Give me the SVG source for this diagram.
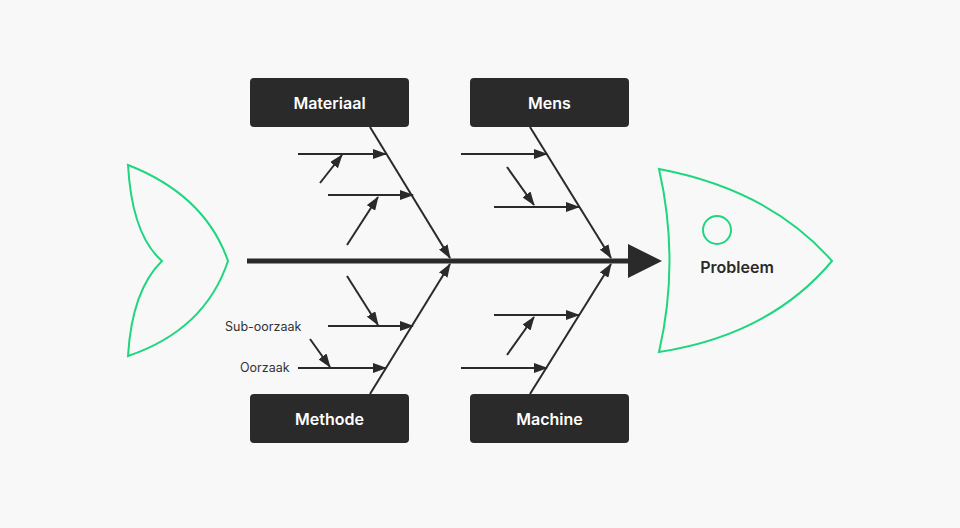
<svg xmlns="http://www.w3.org/2000/svg" width="960" height="528" viewBox="0 0 960 528">
<style>
.box{fill:#2a2a2a}
.bt{fill:#fff;font-family:"Inter","Liberation Sans",sans-serif;font-weight:600;font-size:16px;text-anchor:middle}
.ln{stroke:#2a2a2a;stroke-width:2;fill:none;marker-end:url(#ah)}
.fish{fill:none;stroke:#1fd67f;stroke-width:2}
.lb{fill:#333;font-family:"Inter","Liberation Sans",sans-serif;font-size:12.5px}
</style>
<defs><marker id="ah" viewBox="0 0 14 10" refX="13" refY="5" markerWidth="14" markerHeight="10" markerUnits="userSpaceOnUse" orient="auto"><path d="M0,0L14,5L0,10Z" fill="#2a2a2a"/></marker></defs>
<rect width="960" height="528" fill="#f8f8f8"/>
<g id="tail"><path class="fish" d="M128,165 Q205,195 228,261 Q205,330 128,356 Q132,290 162,261 Q132,235 128,165 Z"/></g>
<g id="head"><path class="fish" d="M659,169 Q770,190 832,261 Q770,335 659,352 Q680,261 659,169 Z"/><circle class="fish" cx="717" cy="230" r="14"/>
<text x="737" y="273" text-anchor="middle" style="font-family:Inter,'Liberation Sans',sans-serif;font-weight:600;font-size:16px;fill:#2a2a2a">Probleem</text></g>
<g id="connectors">
<line x1="247" y1="261" x2="630" y2="261" stroke="#2a2a2a" stroke-width="5"/>
<path d="M628,244L662,261L628,278Z" fill="#2a2a2a"/>
<line class="ln" x1="370" y1="127" x2="450" y2="258"/>
<line class="ln" x1="530" y1="127" x2="611" y2="258"/>
<line class="ln" x1="370" y1="394" x2="450" y2="264"/>
<line class="ln" x1="530" y1="394" x2="611" y2="264"/>
<line class="ln" x1="298" y1="154" x2="386" y2="154"/>
<line class="ln" x1="328" y1="195" x2="413" y2="195"/>
<line class="ln" x1="320" y1="183" x2="342" y2="155"/>
<line class="ln" x1="347" y1="245" x2="378" y2="197"/>
<line class="ln" x1="461" y1="154" x2="547" y2="154"/>
<line class="ln" x1="494" y1="207" x2="579" y2="207"/>
<line class="ln" x1="507" y1="167" x2="534" y2="205"/>
<line class="ln" x1="328" y1="326" x2="413" y2="326"/>
<line class="ln" x1="298" y1="368" x2="386" y2="368"/>
<line class="ln" x1="347" y1="276" x2="378" y2="325"/>
<line class="ln" x1="310" y1="339" x2="330" y2="367"/>
<line class="ln" x1="494" y1="315" x2="579" y2="315"/>
<line class="ln" x1="461" y1="368" x2="547" y2="368"/>
<line class="ln" x1="507" y1="355" x2="534" y2="317"/>
</g>
<g id="materiaal"><rect class="box" x="250" y="78" width="159" height="49" rx="4"/><text class="bt" x="329.5" y="108.5">Materiaal</text></g>
<g id="mens"><rect class="box" x="470" y="78" width="159" height="49" rx="4"/><text class="bt" x="549.5" y="108.5">Mens</text></g>
<g id="methode"><rect class="box" x="250" y="394" width="159" height="49" rx="4"/><text class="bt" x="329.5" y="424.5">Methode</text></g>
<g id="machine"><rect class="box" x="470" y="394" width="159" height="49" rx="4"/><text class="bt" x="549.5" y="424.5">Machine</text></g>
<g id="labels"><text class="lb" x="225" y="331">Sub-oorzaak</text><text class="lb" x="240" y="372">Oorzaak</text></g>
</svg>
